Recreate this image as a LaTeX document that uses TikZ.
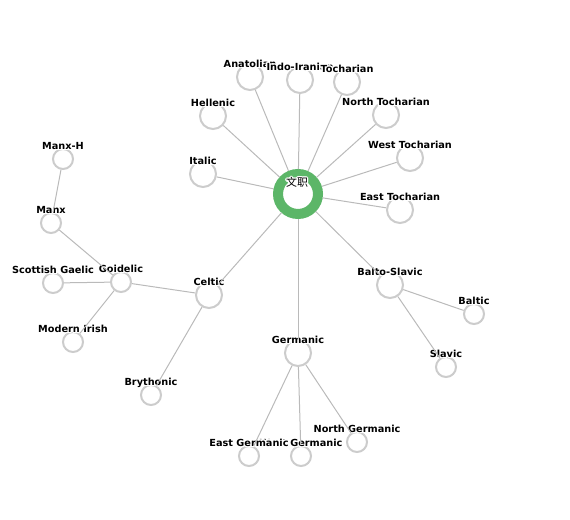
\documentclass[tikz,border=0pt]{standalone}
\usepackage{fontspec}
\setmainfont{DejaVu Sans}
\newfontfamily\cjkfont{Noto Sans CJK SC}
\usepackage{contour}
\contourlength{1pt}
\definecolor{ringgreen}{RGB}{92,182,104}
\definecolor{ringgray}{RGB}{204,204,204}
\definecolor{edgegray}{RGB}{186,186,186}
\newcommand{\halo}[1]{\contour{white}{#1}}
\tikzset{
  big/.style={circle, draw=ringgray, line width=1.5pt, fill=white, minimum size=19.5pt, inner sep=0pt},
  small/.style={big, minimum size=15pt},
  lbl/.style={font=\bfseries\fontsize{7.3}{8}\selectfont, anchor=base, inner sep=0pt},
  biglabel/.style={label={[lbl, label distance=-3.4pt]90:\halo{#1}}},
  smalllabel/.style={label={[lbl, label distance=-1.1pt]90:\halo{#1}}},
  edge/.style={draw=edgegray, line width=0.75pt}
}

\begin{document}
\begin{tikzpicture}[x=0.75pt, y=-0.75pt]
    \useasboundingbox (0,0) rectangle (570,520);
    % Root
    \node[circle, draw=ringgreen, line width=7.5pt, fill=white, minimum size=30pt, inner sep=0pt] (root) at (298,194) {};
    % First level
    \node[big, biglabel=Anatolian] (anatolian) at (250,77) {};
    \node[big, biglabel=Indo-Iranian] (indoiranian) at (300,80) {};
    \node[big, biglabel=Tocharian] (tocharian) at (347,82) {};
    \node[big, biglabel=Hellenic] (hellenic) at (213,116) {};
    \node[big, biglabel=North Tocharian] (northtoch) at (386,115) {};
    \node[big, biglabel=Italic] (italic) at (203,174) {};
    \node[big, biglabel=West Tocharian] (westtoch) at (410,158) {};
    \node[big, biglabel=East Tocharian] (easttoch) at (400,210) {};
    \node[big, biglabel=Celtic] (celtic) at (209,295) {};
    \node[big, biglabel=Germanic] (germanic) at (298,353) {};
    \node[big, biglabel=Balto-Slavic] (baltoslavic) at (390,285) {};
    % Celtic branch
    \node[small, smalllabel=Goidelic] (goidelic) at (121,282) {};
    \node[small, smalllabel=Brythonic] (brythonic) at (151,395) {};
    \node[small, smalllabel=Manx] (manx) at (51,223) {};
    \node[small, smalllabel=Manx-H] (manxh) at (63,159) {};
    \node[small, smalllabel=Scottish Gaelic] (scottish) at (53,283) {};
    \node[small, smalllabel=Modern Irish] (irish) at (73,342) {};
    % Germanic branch
    \node[small, smalllabel=West Germanic] (westgerm) at (301,456) {};
    \node[small, smalllabel=East Germanic] (eastgerm) at (249,456) {};
    \node[small, smalllabel=North Germanic] (northgerm) at (357,442) {};
    % Balto-Slavic branch
    \node[small, smalllabel=Baltic] (baltic) at (474,314) {};
    \node[small, smalllabel=Slavic] (slavic) at (446,367) {};
    % Root label
    \node[lbl, font=\cjkfont\fontsize{8.2}{9}\selectfont] (rootlbl) at (297,187) {\halo{文职}};
    % Edges
    \draw[edge] (root) -- (anatolian);
    \draw[edge] (root) -- (indoiranian);
    \draw[edge] (root) -- (tocharian);
    \draw[edge] (root) -- (hellenic);
    \draw[edge] (root) -- (northtoch);
    \draw[edge] (root) -- (italic);
    \draw[edge] (root) -- (westtoch);
    \draw[edge] (root) -- (easttoch);
    \draw[edge] (root) -- (celtic);
    \draw[edge] (root) -- (germanic);
    \draw[edge] (root) -- (baltoslavic);
    \draw[edge] (celtic) -- (goidelic);
    \draw[edge] (celtic) -- (brythonic);
    \draw[edge] (goidelic) -- (manx);
    \draw[edge] (goidelic) -- (scottish);
    \draw[edge] (goidelic) -- (irish);
    \draw[edge] (manx) -- (manxh);
    \draw[edge] (germanic) -- (westgerm);
    \draw[edge] (germanic) -- (eastgerm);
    \draw[edge] (germanic) -- (northgerm);
    \draw[edge] (baltoslavic) -- (baltic);
    \draw[edge] (baltoslavic) -- (slavic);
\end{tikzpicture}
\end{document}
